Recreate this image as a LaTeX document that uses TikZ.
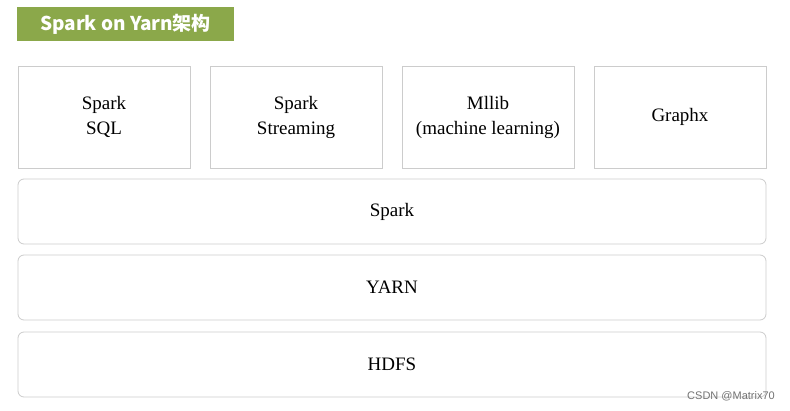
\documentclass[tikz,border=0pt]{standalone}
\usepackage{fontspec}
\setmainfont{Liberation Serif}
\newfontfamily\cjk{Noto Sans CJK SC}
\begin{document}
\begin{tikzpicture}[x=1pt,y=-1pt,
  box/.style={draw=black!20,line width=0.8pt,fill=white,align=center,font=\fontsize{19}{25}\selectfont},
  lay/.style={box,rounded corners=6pt}]
\useasboundingbox[fill=white] (0,0) rectangle (790,411);
\node[fill={rgb,255:red,139;green,168;blue,74},text=white,font=\cjk\bfseries\fontsize{19}{21}\selectfont,minimum width=217pt,minimum height=34pt,inner sep=0pt] (title) at (125.5,24) {Spark on Yarn架构};
\node[box,minimum width=172pt,minimum height=102pt] (sql) at (104,117) {Spark\\SQL};
\node[box,minimum width=172pt,minimum height=102pt] (str) at (296,117) {Spark\\Streaming};
\node[box,minimum width=172pt,minimum height=102pt] (ml) at (488,117) {Mllib\\(machine learning)};
\node[box,minimum width=172pt,minimum height=102pt] (gx) at (680,117) {Graphx};
\node[lay,minimum width=748pt,minimum height=65pt] (spark) at (392,211.5) {Spark};
\node[lay,minimum width=748pt,minimum height=65pt] (yarn) at (392,287.5) {YARN};
\node[lay,minimum width=748pt,minimum height=65pt] (hdfs) at (392,364.5) {HDFS};
\node[text=black!55,font=\fontspec{Liberation Sans}\fontsize{11}{13}\selectfont] (wm) at (731,396) {CSDN @Matrix70};
\end{tikzpicture}
\end{document}
